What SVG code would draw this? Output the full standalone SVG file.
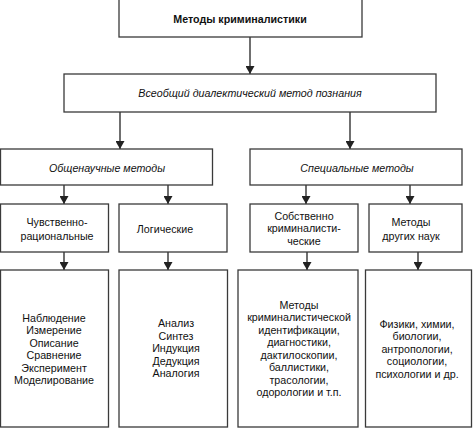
<svg xmlns="http://www.w3.org/2000/svg" width="474" height="429" viewBox="0 0 474 429">
<defs>
<marker id="ah" viewBox="0 0 8 9" refX="8" refY="4.5" markerWidth="8" markerHeight="9" markerUnits="userSpaceOnUse" orient="auto">
<path d="M0,0 L8,4.5 L0,9 Z" fill="#222"/>
</marker>
<style>
.b{fill:#fff;stroke:#3a3a3a;stroke-width:1.3}
.t{font-family:"Liberation Sans",Arial,sans-serif;font-size:10.7px;fill:#111;text-anchor:middle}
.i{font-style:italic}
.bold{font-weight:bold}
.c{stroke:#222;stroke-width:1.3;fill:none;marker-end:url(#ah)}
</style>
</defs>
<rect width="474" height="429" fill="#fff"/>
<g id="connectors">
<line class="c" x1="250" y1="37" x2="250" y2="74"/>
<line class="c" x1="120" y1="112" x2="120" y2="149"/>
<line class="c" x1="350" y1="112" x2="350" y2="149"/>
<line class="c" x1="64" y1="185" x2="64" y2="204"/>
<line class="c" x1="168" y1="185" x2="168" y2="204"/>
<line class="c" x1="306" y1="185" x2="306" y2="204"/>
<line class="c" x1="410" y1="185" x2="410" y2="204"/>
<line class="c" x1="64" y1="252" x2="64" y2="270"/>
<line class="c" x1="168" y1="252" x2="168" y2="270"/>
<line class="c" x1="307" y1="252" x2="307" y2="270"/>
<line class="c" x1="418" y1="252" x2="418" y2="270"/>
</g>
<g id="n-root">
<rect class="b" x="119" y="-1" width="243" height="38"/>
<text class="t bold" x="240" y="23">Методы криминалистики</text>
</g>
<g id="n-dialectic">
<rect class="b" x="64" y="74" width="372" height="38"/>
<text class="t i" x="250" y="97">Всеобщий диалектический метод познания</text>
</g>
<g id="n-general">
<rect class="b" x="0.5" y="149" width="212" height="36"/>
<text class="t i" x="107" y="171.5">Общенаучные методы</text>
</g>
<g id="n-special">
<rect class="b" x="250" y="149" width="212" height="36"/>
<text class="t i" x="357" y="171.5">Специальные методы</text>
</g>
<g id="n-sensory">
<rect class="b" x="0.5" y="204" width="108" height="48"/>
<text class="t" x="57" y="225.5">Чувственно-</text>
<text class="t" x="57" y="239.5">рациональные</text>
</g>
<g id="n-logical">
<rect class="b" x="119" y="204" width="108" height="48"/>
<text class="t" x="165" y="232.5">Логические</text>
</g>
<g id="n-own">
<rect class="b" x="250" y="204" width="108" height="48"/>
<text class="t" x="304" y="219.5">Собственно</text>
<text class="t" x="304" y="232">криминалисти-</text>
<text class="t" x="304" y="244.5">ческие</text>
</g>
<g id="n-other">
<rect class="b" x="369" y="204" width="93" height="48"/>
<text class="t" x="411" y="225.5">Методы</text>
<text class="t" x="411" y="239.5">других наук</text>
</g>
<g id="n-sensory-list">
<rect class="b" x="0.5" y="270" width="108" height="157"/>
<text class="t" x="54" y="321.5">Наблюдение</text>
<text class="t" x="54" y="334">Измерение</text>
<text class="t" x="54" y="346.5">Описание</text>
<text class="t" x="54" y="359">Сравнение</text>
<text class="t" x="54" y="371.5">Эксперимент</text>
<text class="t" x="54" y="384">Моделирование</text>
</g>
<g id="n-logical-list">
<rect class="b" x="119" y="270" width="108.5" height="157"/>
<text class="t" x="176" y="327">Анализ</text>
<text class="t" x="176" y="339.5">Синтез</text>
<text class="t" x="176" y="352">Индукция</text>
<text class="t" x="176" y="364.5">Дедукция</text>
<text class="t" x="176" y="377">Аналогия</text>
</g>
<g id="n-own-list">
<rect class="b" x="238" y="270" width="120" height="157"/>
<text class="t" x="299" y="308.5">Методы</text>
<text class="t" x="299" y="321">криминалистической</text>
<text class="t" x="299" y="333.5">идентификации,</text>
<text class="t" x="299" y="346">диагностики,</text>
<text class="t" x="299" y="358.5">дактилоскопии,</text>
<text class="t" x="299" y="371">баллистики,</text>
<text class="t" x="299" y="383.5">трасологии,</text>
<text class="t" x="299" y="396">одорологии и т.п.</text>
</g>
<g id="n-other-list">
<rect class="b" x="365.5" y="270" width="106" height="157"/>
<text class="t" x="417" y="327.5">Физики, химии,</text>
<text class="t" x="417" y="340">биологии,</text>
<text class="t" x="417" y="352.5">антропологии,</text>
<text class="t" x="417" y="365">социологии,</text>
<text class="t" x="417" y="377.5">психологии и др.</text>
</g>
</svg>
